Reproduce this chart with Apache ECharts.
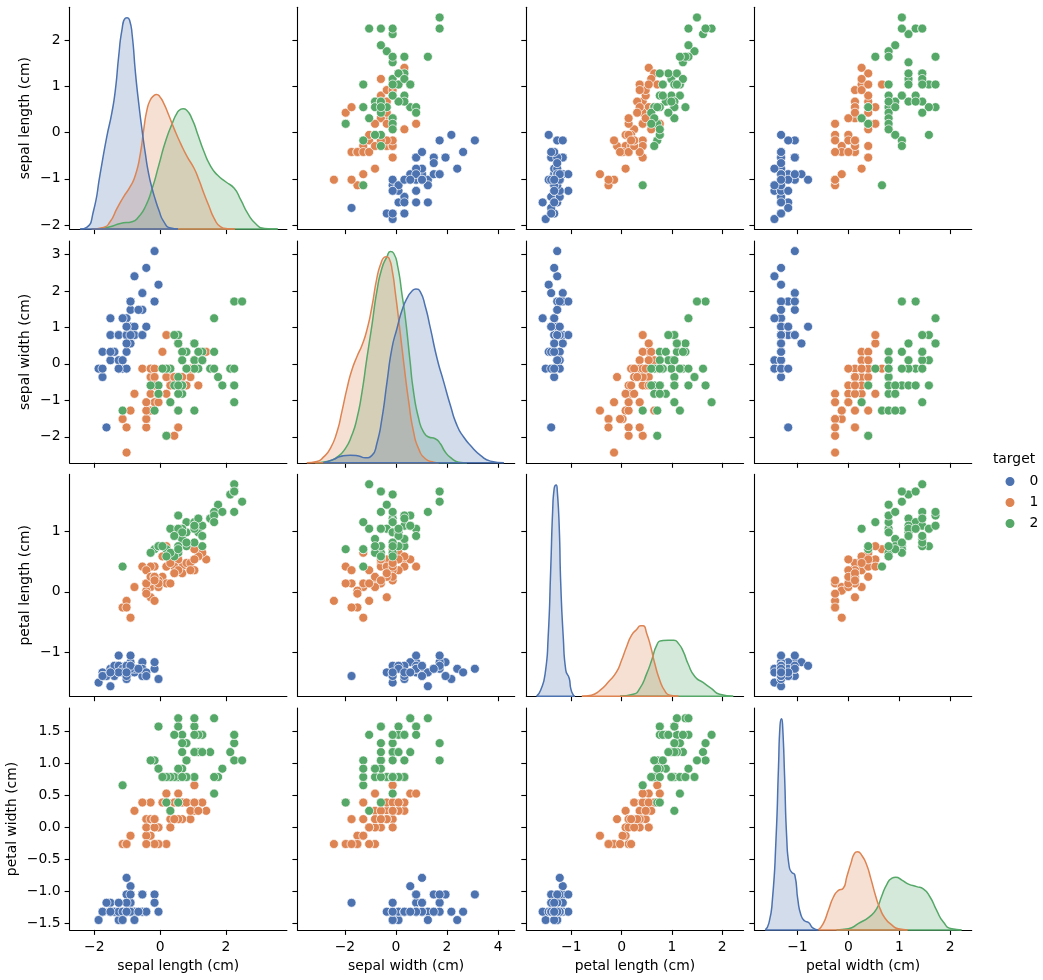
<!DOCTYPE html>
<html>
<head>
<meta charset="utf-8">
<title>iris pairplot</title>
<script src="https://cdn.jsdelivr.net/npm/echarts@6/dist/echarts.min.js"></script>
<style>
html, body { margin: 0; padding: 0; background: #fff; }
#main { width: 1043px; height: 980px; }
</style>
</head>
<body>
<div id="main"></div>
<script>
// scaled iris values, 50 rows per target (0, 1, 2)
var sepalLength = [
  -.90,-1.14,-1.39,-1.51,-1.02,-.54,-1.51,-1.02,-1.75,-1.14,-.54,-1.26,-1.26,-1.87,-.05,-.17,-.54,-.90,-.17,-.90,
  -.54,-.90,-1.51,-.90,-1.26,-1.02,-1.02,-.78,-.78,-1.39,-1.26,-.54,-.78,-.42,-1.14,-1.02,-.42,-1.14,-1.75,-.90,
  -1.02,-1.63,-1.75,-1.02,-.90,-1.26,-.90,-1.51,-.66,-1.02,
  1.40,.67,1.28,-.42,.80,-.17,.55,-1.14,.92,-.78,-1.02,.07,.19,.31,-.29,1.04,-.29,-.05,.43,-.29,
  .07,.31,.55,.31,.67,.92,1.16,1.04,.19,-.17,-.42,-.42,-.05,.19,-.54,.19,1.04,.55,-.29,-.42,
  -.42,.31,-.05,-1.02,-.29,-.17,-.17,.43,-.90,-.17,
  .55,-.05,1.52,.55,.80,2.13,-1.14,1.76,1.04,1.64,.80,.67,1.16,-.17,-.05,.67,.80,2.25,2.25,.19,
  1.28,-.29,2.25,.55,1.04,1.64,.43,.31,.67,1.64,1.89,2.49,.67,.55,.31,2.25,.55,.67,.19,1.28,
  1.04,1.28,-.05,1.16,1.04,1.04,.55,.80,.43,.07
];
var sepalWidth = [
  1.02,-.13,.33,.10,1.25,1.94,.79,.79,-.36,.10,1.48,.79,-.13,-.13,2.17,3.09,1.94,1.02,1.71,1.71,
  .79,1.48,1.25,.56,.79,-.13,.79,1.02,.79,.33,.10,.79,2.40,2.63,.10,.33,1.02,1.25,-.13,.79,
  1.02,-1.74,.33,1.02,1.71,-.13,1.71,.33,1.48,.56,
  .33,.33,.10,-1.74,-.59,-.59,.56,-1.51,-.36,-.82,-2.43,-.13,-1.97,-.36,-.36,.10,-.13,-.82,-1.97,-1.28,
  .33,-.59,-1.28,-.59,-.36,-.13,-.59,-.13,-.36,-1.05,-1.51,-1.51,-.82,-.82,-.13,.79,.10,-1.74,-.13,-1.28,
  -1.05,-.13,-1.05,-1.74,-.82,-.13,-.36,-.36,-1.28,-.59,
  .56,-.82,-.13,-.36,-.13,-.13,-1.28,-.36,-1.28,1.25,.33,-.82,-.13,-1.28,-.59,.33,-.13,1.71,-1.05,-1.97,
  .33,-.59,-.59,-.82,.56,.33,-.59,-.13,-.59,-.13,-.59,1.71,-.59,-.59,-1.05,-.13,.79,.10,-.13,.10,
  .10,.10,-.82,.33,.56,-.13,-1.28,-.13,.79,-.13
];
var petalLength = [
  -1.34,-1.34,-1.40,-1.28,-1.34,-1.17,-1.34,-1.28,-1.34,-1.28,-1.28,-1.23,-1.34,-1.51,-1.45,-1.28,-1.40,-1.34,-1.17,-1.28,
  -1.17,-1.28,-1.57,-1.17,-1.06,-1.23,-1.23,-1.28,-1.34,-1.23,-1.23,-1.28,-1.28,-1.34,-1.28,-1.45,-1.40,-1.34,-1.40,-1.28,
  -1.40,-1.40,-1.40,-1.23,-1.06,-1.34,-1.23,-1.34,-1.28,-1.34,
  .54,.42,.65,.14,.48,.42,.54,-.26,.48,.08,-.15,.25,.14,.54,-.09,.36,.42,.19,.42,.08,
  .59,.14,.65,.54,.31,.36,.59,.71,.42,-.15,.02,-.03,.08,.76,.42,.42,.54,.36,.19,.14,
  .36,.48,.14,-.26,.25,.25,.25,.31,-.43,.19,
  1.27,.76,1.22,1.05,1.16,1.62,.42,1.45,1.16,1.33,.76,.88,.99,.71,.76,.88,.99,1.67,1.79,.71,
  1.10,.65,1.67,.65,1.10,1.27,.59,.65,1.05,1.16,1.33,1.50,1.05,.76,1.05,1.33,1.05,.99,.59,.93,
  1.05,.76,.76,1.22,1.10,.82,.71,.82,.93,.76
];
var petalWidth = [
  -1.32,-1.32,-1.32,-1.32,-1.32,-1.05,-1.18,-1.32,-1.32,-1.45,-1.32,-1.32,-1.45,-1.45,-1.32,-1.05,-1.05,-1.18,-1.18,-1.18,
  -1.32,-1.05,-1.32,-.92,-1.32,-1.32,-1.05,-1.32,-1.32,-1.32,-1.32,-1.05,-1.45,-1.32,-1.32,-1.32,-1.32,-1.45,-1.32,-1.32,
  -1.18,-1.18,-1.32,-.79,-1.05,-1.18,-1.32,-1.32,-1.32,-1.32,
  .26,.39,.39,.13,.39,.13,.53,-.26,.13,.26,-.26,.39,-.26,.26,.13,.26,.39,-.26,.39,-.13,
  .79,.13,.39,0,.13,.26,.26,.66,.39,-.26,-.13,-.26,0,.53,.39,.53,.39,.13,.13,.13,
  0,.26,0,-.26,.13,0,.13,.13,-.13,.13,
  1.71,.92,1.18,.79,1.32,1.18,.66,.79,.79,1.71,1.05,.92,1.18,1.05,1.58,1.45,.79,1.32,1.45,.39,
  1.45,1.05,1.05,.79,1.18,.79,.79,.79,1.18,.53,.92,1.05,1.32,.39,.26,1.45,1.58,.79,.79,1.18,
  1.58,1.45,.92,1.45,1.71,1.45,.92,1.05,1.45,.79
];
var targets = ['0', '1', '2'];
var rowsPerTarget = 50;

var varNames = ['sepal length (cm)', 'sepal width (cm)', 'petal length (cm)', 'petal width (cm)'];
var colors = ['#4c72b0', '#dd8452', '#55a868'];

// axis ranges and ticks
var xRanges = [[-2.75, 3.85], [-3.86, 4.65], [-1.895, 2.427], [-1.843, 2.42]];
var yRanges = [[-2.088, 2.71], [-2.71, 3.367], [-1.736, 1.954], [-1.605, 1.869]];
var xTicks = [[-2, 0, 2], [-2, 0, 2, 4], [-1, 0, 1, 2], [-1, 0, 1, 2]];
var yTicks = [[-2, -1, 0, 1, 2], [-2, -1, 0, 1, 2, 3], [-1, 0, 1], [-1.5, -1, -0.5, 0, 0.5, 1, 1.5]];

// density curves (tallest peak of a panel = 1)
var kdeSepalLengthX0 = [-2.43,-2.23,-2.03,-1.82,-1.62,-1.47,-1.36,-1.26,-1.16,-1.06,-1,-.93,-.85,-.75,-.65,-.55,-.45,-.35,-.24,-.14,-.04,.11,.32,.54];
var kdeSepalLengthY0 = [0,.008,.082,.264,.438,.548,.659,.817,.943,.998,1,.99,.92,.74,.595,.47,.358,.263,.19,.137,.09,.035,.005,0];
var kdeSepalLengthX1 = [-2.08,-1.72,-1.52,-1.31,-1.11,-.91,-.75,-.6,-.5,-.4,-.3,-.19,-.11,-.01,.11,.26,.42,.62,.82,1.03,1.18,1.33,1.49,1.64,1.84,2.05,2.27];
var kdeSepalLengthY1 = [0,.008,.035,.098,.153,.201,.256,.359,.47,.564,.611,.632,.637,.627,.595,.54,.477,.406,.343,.288,.232,.169,.106,.051,.011,.002,0];
var kdeSepalLengthX2 = [-1.87,-1.52,-1.21,-.85,-.65,-.45,-.24,-.04,.16,.37,.52,.62,.7,.8,.98,1.13,1.33,1.54,1.74,1.99,2.25,2.45,2.66,2.91,3.17,3.57];
var kdeSepalLengthY2 = [0,.011,.027,.035,.059,.106,.193,.303,.414,.501,.551,.567,.57,.564,.517,.454,.367,.296,.256,.224,.193,.138,.074,.024,.003,0];

var kdeSepalWidthX0 = [-2.84,-2.44,-2.18,-1.79,-1.46,-1.2,-.94,-.75,-.55,-.35,-.16,.04,.24,.43,.63,.78,.95,1.15,1.35,1.61,1.87,2.13,2.39,2.65,2.98,3.31,3.7,4.22];
var kdeSepalWidthY0 = [0,.016,.03,.036,.032,.024,.035,.09,.209,.383,.541,.636,.723,.778,.813,.823,.81,.74,.636,.494,.383,.272,.177,.122,.074,.035,.008,0];
var kdeSepalWidthX1 = [-3.49,-3.1,-2.84,-2.58,-2.31,-2.12,-1.92,-1.73,-1.53,-1.33,-1.14,-.94,-.75,-.59,-.46,-.38,-.27,-.14,-.03,.1,.3,.5,.69,.89,1.15,1.48,1.67];
var kdeSepalWidthY1 = [0,.006,.027,.066,.146,.241,.351,.438,.502,.557,.628,.74,.873,.944,.973,.976,.968,.905,.81,.684,.478,.288,.146,.066,.019,.003,0];
var kdeSepalWidthX2 = [-3.16,-2.71,-2.31,-1.99,-1.73,-1.53,-1.33,-1.14,-.94,-.75,-.55,-.35,-.22,-.09,.07,.24,.37,.54,.69,.89,1.08,1.28,1.54,1.74,1.93,2.2,2.46,2.78];
var kdeSepalWidthY2 = [0,.006,.027,.066,.13,.209,.335,.494,.652,.81,.921,.976,1,.992,.929,.794,.684,.494,.335,.209,.146,.122,.114,.09,.051,.019,.003,0];

var kdePetalLengthX0 = [-1.69,-1.61,-1.52,-1.46,-1.41,-1.37,-1.34,-1.3,-1.28,-1.24,-1.21,-1.16,-1.11,-1.04,-1.01,-.96,-.93];
var kdePetalLengthY0 = [0,.028,.107,.281,.597,.882,.984,1,.976,.801,.533,.28,.123,.084,.036,.005,0];
var kdePetalLengthX1 = [-.79,-.6,-.43,-.26,-.1,0,.1,.2,.3,.38,.43,.5,.58,.66,.76,.86,.96,1.13];
var kdePetalLengthY1 = [0,.005,.028,.068,.115,.17,.234,.289,.316,.333,.333,.297,.234,.155,.076,.025,.005,0];
var kdePetalLengthX2 = [-.03,.23,.36,.5,.6,.7,.79,.93,1.04,1.13,1.23,1.32,1.46,1.62,1.79,1.95,2.22];
var kdePetalLengthY2 = [0,.009,.036,.107,.171,.242,.262,.265,.265,.25,.21,.155,.092,.065,.036,.009,0];

var kdePetalWidthX0 = [-1.63,-1.56,-1.49,-1.42,-1.37,-1.34,-1.31,-1.29,-1.25,-1.21,-1.16,-1.11,-1.05,-.99,-.93,-.86,-.78,-.69,-.59];
var kdePetalWidthY0 = [0,.031,.142,.425,.772,.969,1,.969,.724,.441,.299,.272,.26,.142,.071,.043,.035,.008,0];
var kdePetalWidthX1 = [-.59,-.49,-.39,-.29,-.2,-.1,-.03,.05,.12,.18,.26,.36,.44,.54,.62,.72,.85,.98,1.16];
var kdePetalWidthY1 = [0,.031,.094,.157,.186,.197,.252,.315,.362,.37,.354,.307,.244,.157,.102,.055,.024,.005,0];
var kdePetalWidthX2 = [-.23,0,.2,.42,.56,.65,.75,.85,.93,1.05,1.18,1.34,1.47,1.6,1.73,1.86,2.03,2.22];
var kdePetalWidthY2 = [0,.005,.031,.063,.102,.157,.213,.244,.249,.236,.217,.205,.194,.157,.094,.039,.005,0];

var columns = [sepalLength, sepalWidth, petalLength, petalWidth];
var kdeX = [
  [kdeSepalLengthX0, kdeSepalLengthX1, kdeSepalLengthX2],
  [kdeSepalWidthX0, kdeSepalWidthX1, kdeSepalWidthX2],
  [kdePetalLengthX0, kdePetalLengthX1, kdePetalLengthX2],
  [kdePetalWidthX0, kdePetalWidthX1, kdePetalWidthX2]
];
var kdeY = [
  [kdeSepalLengthY0, kdeSepalLengthY1, kdeSepalLengthY2],
  [kdeSepalWidthY0, kdeSepalWidthY1, kdeSepalWidthY2],
  [kdePetalLengthY0, kdePetalLengthY1, kdePetalLengthY2],
  [kdePetalWidthY0, kdePetalWidthY1, kdePetalWidthY2]
];

// panel layout
var colLeft = [69.6, 297.4, 526.3, 754.4];
var rowTop = [7.3, 241, 474.4, 708.1];
var panelW = 217.3;
var panelH = 221.8;
var fontName = 'DejaVu Sans';
var fontSize = 13.9;

function tickText(v, decimals) {
  return v.toFixed(decimals).replace('-', '\u2212');
}

function axisCommon(range, ticks, showLabel, decimals) {
  return {
    type: 'value',
    min: range[0],
    max: range[1],
    silent: true,
    splitLine: { show: false },
    axisLine: { show: true, onZero: false, lineStyle: { color: '#000', width: 1.1 } },
    axisTick: { show: true, length: 5, customValues: ticks, lineStyle: { color: '#000', width: 1.1 } },
    axisLabel: {
      show: showLabel,
      customValues: ticks,
      margin: 9,
      color: '#000',
      fontFamily: fontName,
      fontSize: fontSize,
      formatter: function (v) { return tickText(v, decimals); }
    },
    nameTextStyle: { color: '#000', fontFamily: fontName, fontSize: fontSize }
  };
}

var grids = [], xAxes = [], yAxes = [], series = [], diagSeries = [];

for (var r = 0; r < 4; r++) {
  for (var c = 0; c < 4; c++) {
    var idx = grids.length;
    grids.push({ left: colLeft[c], top: rowTop[r], width: panelW, height: panelH, containLabel: false });

    var xa = axisCommon(xRanges[c], xTicks[c], r === 3, 0);
    xa.gridIndex = idx;
    xa.position = 'bottom';
    xa.axisLabel.margin = 10;
    if (r === 3) {
      xa.name = varNames[c];
      xa.nameLocation = 'middle';
      xa.nameGap = 29.5;
    }
    xAxes.push(xa);

    var ya = axisCommon(yRanges[r], yTicks[r], c === 0, r === 3 ? 1 : 0);
    ya.gridIndex = idx;
    ya.position = 'left';
    ya.axisLabel.padding = [3, 0, 0, 0];
    if (c === 0) {
      ya.name = varNames[r];
      ya.nameLocation = 'middle';
      ya.nameGap = r === 3 ? 50 : 37;
    }
    yAxes.push(ya);

    if (r !== c) {
      for (var t = 0; t < targets.length; t++) {
        var pts = [];
        for (var i = t * rowsPerTarget; i < (t + 1) * rowsPerTarget; i++) {
          pts.push([columns[c][i], columns[r][i]]);
        }
        series.push({
          type: 'scatter',
          name: targets[t],
          xAxisIndex: idx,
          yAxisIndex: idx,
          data: pts,
          symbol: 'circle',
          symbolSize: 9,
          silent: true,
          itemStyle: { color: colors[t], opacity: 1, borderColor: '#fff', borderWidth: 0.7 }
        });
      }
    } else {
      // density has its own hidden y axis, the row axis stays visible
      var densityIndex = 16 + r;
      diagSeries.push({ xIdx: idx, yIdx: densityIndex, col: c });
    }
  }
}

for (var d = 0; d < diagSeries.length; d++) {
  yAxes[diagSeries[d].yIdx] = {
    type: 'value',
    gridIndex: diagSeries[d].xIdx,
    min: 0,
    max: 1.05,
    show: false
  };
  // target 2 goes first so target 0 ends up on top
  for (var k = 2; k >= 0; k--) {
    var xs = kdeX[diagSeries[d].col][k];
    var ys = kdeY[diagSeries[d].col][k];
    var curve = xs.map(function (x, j) { return [x, ys[j]]; });
    series.push({
      type: 'line',
      name: targets[k],
      xAxisIndex: diagSeries[d].xIdx,
      yAxisIndex: diagSeries[d].yIdx,
      data: curve,
      smooth: 0.6,
      showSymbol: false,
      silent: true,
      lineStyle: { color: colors[k], width: 1.5 },
      itemStyle: { color: colors[k] },
      areaStyle: { color: colors[k], opacity: 0.25 }
    });
    series.push({
      type: 'line',
      name: targets[k],
      xAxisIndex: diagSeries[d].xIdx,
      yAxisIndex: diagSeries[d].yIdx,
      data: [curve[0], curve[curve.length - 1]],
      showSymbol: false,
      silent: true,
      clip: false,
      lineStyle: { color: colors[k], width: 1.5 },
      itemStyle: { color: colors[k] }
    });
  }
}

var option = {
  animation: false,
  backgroundColor: '#fff',
  title: {
    text: 'target',
    left: 1009,
    top: 447,
    textAlign: 'center',
    textStyle: { color: '#000', fontFamily: fontName, fontSize: fontSize, fontWeight: 'normal' }
  },
  legend: {
    orient: 'vertical',
    left: 998.5,
    top: 469.5,
    data: targets.map(function (t) { return { name: t, icon: 'circle' }; }),
    itemWidth: 11,
    itemHeight: 11,
    itemGap: 7,
    selectedMode: false,
    textStyle: { color: '#000', fontFamily: fontName, fontSize: fontSize, padding: [0, 0, 0, 9] }
  },
  grid: grids,
  xAxis: xAxes,
  yAxis: yAxes,
  series: series
};

var chart = echarts.init(document.getElementById('main'), null, { renderer: 'canvas' });
chart.setOption(option);
</script>
</body>
</html>
